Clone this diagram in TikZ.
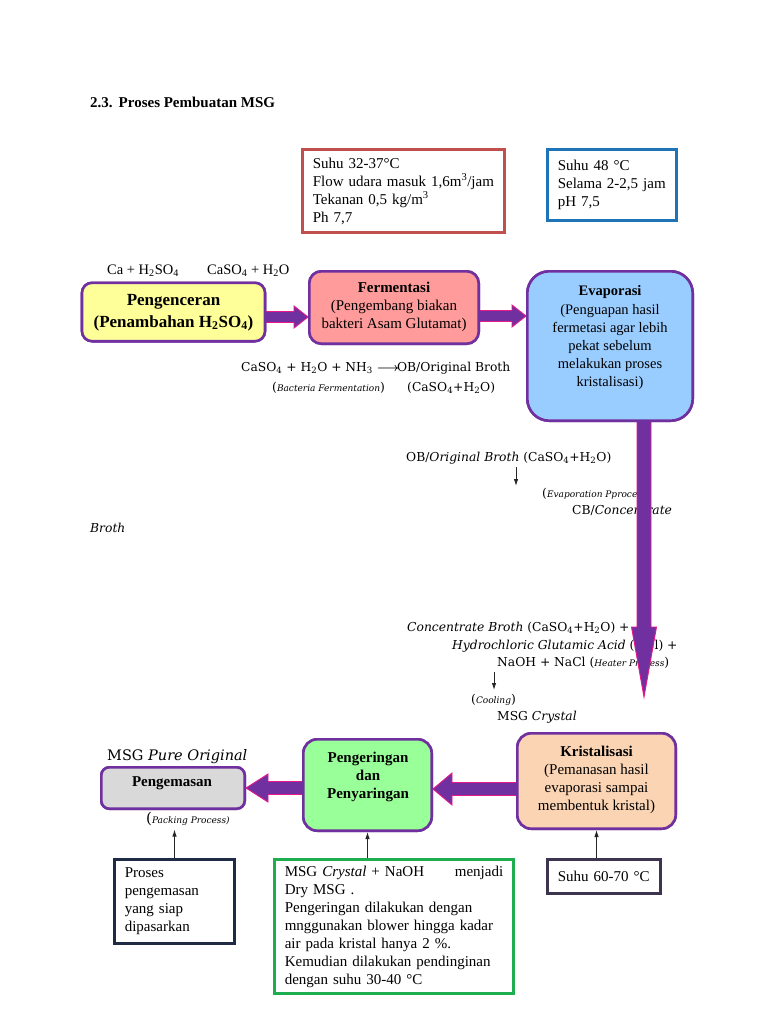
\documentclass[tikz,border=0pt]{standalone}
\usepackage{fontspec}
\setmainfont{Liberation Serif}
\newfontfamily\cent{DejaVu Serif}
\usetikzlibrary{arrows.meta,calc}

\definecolor{procpurple}{HTML}{7030A0}
\definecolor{arrowpink}{HTML}{E8178A}
\definecolor{redbox}{HTML}{C0504D}
\definecolor{bluebox}{HTML}{1F73B7}
\definecolor{navybox}{HTML}{1F2A44}
\definecolor{greenbox}{HTML}{1FAE4F}
\definecolor{greybox}{HTML}{3D3550}
\definecolor{pengfill}{HTML}{FFFF99}
\definecolor{fermfill}{HTML}{FF9B9B}
\definecolor{evapfill}{HTML}{99CCFF}
\definecolor{pengemfill}{HTML}{D9D9D9}
\definecolor{pengerfill}{HTML}{99FF99}
\definecolor{kristfill}{HTML}{FBD4B4}

\newcommand\sub[1]{\textsubscript{#1}}
\newcommand\fs[2]{\fontsize{#1}{#2}\selectfont}

\tikzset{
  txt/.style={inner sep=0pt, anchor=base west, font=\fs{15}{18}},
  cenT/.style={inner sep=0pt, anchor=base west, font=\cent\fs{12.3}{15}},
  procbox/.style={draw=procpurple, line width=2.6pt, inner sep=0pt},
  ptext/.style={inner sep=0pt, align=center, font=\fs{15}{18}},
  infobox/.style={line width=2.6pt, inner xsep=10.5pt, inner ysep=0pt, align=left, anchor=north west, font=\fs{15}{18}},
  bigarr/.style={fill=procpurple, draw=arrowpink, line width=0.9pt, line join=miter},
  thinarr/.style={-{Latex[length=7pt,width=4.5pt]}, line width=0.9pt, black!85},
}

% from node (center), to node, y, shaft half, head half, head length
\newcommand\arrowRight[6]{%
  \path[bigarr] let \p1=(#1.center), \p2=(#2.west), \p3=(0,#3) in
   (\x1,\y3+#4pt) -- (\x2-#6pt,\y3+#4pt) -- (\x2-#6pt,\y3+#5pt) -- (\x2,\y3)
   -- (\x2-#6pt,\y3-#5pt) -- (\x2-#6pt,\y3-#4pt) -- (\x1,\y3-#4pt) -- cycle;}
\newcommand\arrowLeft[6]{%
  \path[bigarr] let \p1=(#1.center), \p2=(#2.east), \p3=(0,#3) in
   (\x1,\y3+#4pt) -- (\x2+#6pt,\y3+#4pt) -- (\x2+#6pt,\y3+#5pt) -- (\x2,\y3)
   -- (\x2+#6pt,\y3-#5pt) -- (\x2+#6pt,\y3-#4pt) -- (\x1,\y3-#4pt) -- cycle;}

\begin{document}
\begin{tikzpicture}[x=1pt,y=-1pt]
\fill[white] (0,0) rectangle (768,1024);
\useasboundingbox (0,0) rectangle (768,1024);

% ---------- texts ----------
\node[txt, font=\bfseries\fs{15}{18}] (title) at (90,108) {2.3.\hspace{6pt}Proses Pembuatan MSG};

\node[txt, font=\fs{14.5}{18}] (eq1) at (107,274) {Ca + H\sub2SO\sub4};
\node[txt, font=\fs{14.5}{18}] (eq2) at (207,274) {CaSO\sub4 + H\sub2O};

\node[cenT] (eq3) at (241,371) {CaSO\sub4 + H\sub2O + NH\sub3 {\boldmath$\longrightarrow$}\kern-2pt OB/Original Broth};
\node[cenT] (eq4) at (272,391) {(\textit{\fs{9}{10}Bacteria Fermentation})};
\node[cenT] (eq5) at (407,391) {(CaSO\sub4+H\sub2O)};

\node[cenT] (ob2) at (406,461) {OB/\textit{Original Broth} (CaSO\sub4+H\sub2O)};
\node[cenT] (evp) at (542,497) {(\textit{\fs{9}{10}Evaporation Pprocess}};
\node[cenT] (cb) at (572,514) {CB/\textit{Concentrate}};
\node[cenT] (broth) at (90,532) {\textit{Broth}};
\node[cenT] (cb2) at (407,631) {\textit{Concentrate Broth} (CaSO\sub4+H\sub2O) +};
\node[cenT] (hcl) at (452,649) {\textit{Hydrochloric Glutamic Acid} (HCl) +};
\node[cenT] (naoh) at (497,666) {NaOH + NaCl (\textit{\fs{9}{10}Heater Process})};
\node[cenT] (cool) at (471,703) {(\textit{\fs{9}{10}Cooling})};
\node[cenT] (crys) at (497,720) {MSG \textit{Crystal}};
\node[cenT, font=\cent\fs{14.5}{18}] (pure) at (107,760) {MSG \textit{Pure Original}};
\node[cenT] (pack) at (146,823) {{\fs{15}{18}(}\textit{\fs{9}{10}Packing Process)}};

\coordinate (a1s) at (516,467);
\coordinate (a1e) at (516,486);
\draw[thinarr] (a1s) -- (a1e);
\coordinate (a2s) at (494,672);
\coordinate (a2e) at (494,690);
\draw[thinarr] (a2s) -- (a2e);

% ---------- info boxes ----------
\node[infobox, draw=redbox, text width=181.4pt, minimum height=83.4pt] (cond1) at (301,148)
  {Suhu 32-37°C\\Flow udara masuk 1,6m\textsuperscript{3}/jam\\Tekanan 0,5 kg/m\textsuperscript{3}\\Ph 7,7};
\node[infobox, draw=bluebox, text width=108.4pt, minimum height=71.4pt] (cond2) at (546,148)
  {Suhu 48 °C\\Selama 2-2,5 jam\\pH 7,5};
\node[infobox, draw=navybox, text width=99.4pt, minimum height=84.4pt] (proses) at (113,858)
  {Proses\\pengemasan\\yang siap\\dipasarkan};
\node[infobox, draw=greenbox, text width=218.4pt, minimum height=134.4pt] (green) at (273,858)
  {MSG \textit{Crystal} + NaOH\hfill menjadi\\Dry MSG .\\Pengeringan dilakukan dengan\\mnggunakan blower hingga kadar\\air pada kristal hanya 2 \%.\\Kemudian dilakukan pendinginan\\dengan suhu 30-40 °C};
\node[infobox, draw=greybox, text width=92.4pt, minimum height=34.4pt] (suhu) at (546,858)
  {Suhu 60-70 °C};

% ---------- process boxes (shapes) ----------
\node[procbox, fill=pengfill, rounded corners=10pt, minimum width=183pt, minimum height=58.4pt] (peng) at (173.5,312) {};
\node[procbox, fill=fermfill, rounded corners=12pt, minimum width=169.4pt, minimum height=72.4pt] (ferm) at (394,307.5) {};
\node[procbox, fill=evapfill, rounded corners=22pt, minimum width=165.4pt, minimum height=149.4pt] (evap) at (610,346) {};
\node[procbox, fill=pengemfill, rounded corners=8pt, minimum width=143.4pt, minimum height=41.4pt] (pengem) at (173,788) {};
\node[procbox, fill=pengerfill, rounded corners=14pt, minimum width=128.4pt, minimum height=91.4pt] (penger) at (367.5,785) {};
\node[procbox, fill=kristfill, rounded corners=14pt, minimum width=158.4pt, minimum height=95.4pt] (krist) at (596.5,781) {};

% ---------- big arrows ----------
\coordinate (vtip) at (644,697);
\coordinate (vstart) at (evap.center -| vtip);
\path[bigarr] let \p1=(vstart), \p2=(vtip) in
  (\x1-7pt,\y1) -- (\x1-7pt,\y2+70pt) -- (\x1-12.5pt,\y2+70pt) -- (\x1,\y2)
  -- (\x1+12.5pt,\y2+70pt) -- (\x1+7pt,\y2+70pt) -- (\x1+7pt,\y1) -- cycle;
\arrowRight{peng}{ferm}{317}{5.5}{11}{14}
\arrowRight{ferm}{evap}{316}{5.5}{11}{14}
\arrowLeft{krist}{penger}{789}{6.5}{16}{19}
\arrowLeft{penger}{pengem}{788}{6.5}{14}{22}

% redraw process boxes on top of arrow starts
\node[procbox, fill=pengfill, rounded corners=10pt, minimum width=183pt, minimum height=58.4pt] at (peng.center) {};
\node[procbox, fill=fermfill, rounded corners=12pt, minimum width=169.4pt, minimum height=72.4pt] at (ferm.center) {};
\node[procbox, fill=evapfill, rounded corners=22pt, minimum width=165.4pt, minimum height=149.4pt] at (evap.center) {};
\node[procbox, fill=pengemfill, rounded corners=8pt, minimum width=143.4pt, minimum height=41.4pt] at (pengem.center) {};
\node[procbox, fill=pengerfill, rounded corners=14pt, minimum width=128.4pt, minimum height=91.4pt] at (penger.center) {};
\node[procbox, fill=kristfill, rounded corners=14pt, minimum width=158.4pt, minimum height=95.4pt] at (krist.center) {};

% ---------- process texts ----------
\node[ptext, font=\bfseries\fs{17}{22}] (pengT) at (173.5,312.5) {Pengenceran\\(Penambahan H\sub2SO\sub4)};
\node[ptext] (fermT) at (394,307) {\textbf{Fermentasi}\\(Pengembang biakan\\bakteri Asam Glutamat)};
\node[ptext, font=\fs{14.5}{18.2}] (evapT) at (610,338) {\textbf{Evaporasi}\\(Penguapan hasil\\fermetasi agar lebih\\pekat sebelum\\melakukan proses\\kristalisasi)};
\node[ptext, font=\bfseries\fs{15}{18}] (pengemT) at (172,783.5) {Pengemasan};
\node[ptext, font=\bfseries\fs{15}{18}] (pengerT) at (368,776.5) {Pengeringan\\dan\\Penyaringan};
\node[ptext] (kristT) at (596.5,779.5) {\textbf{Kristalisasi}\\(Pemanasan hasil\\evaporasi sampai\\membentuk kristal)};

% ---------- thin connectors ----------
\draw[thinarr] (proses.north) -- ($(proses.north |- pack.south)+(0,4)$);
\draw[thinarr] (penger.south |- green.north) -- (penger.south);
\draw[thinarr] (krist.south |- suhu.north) -- (krist.south);
\end{tikzpicture}
\end{document}
